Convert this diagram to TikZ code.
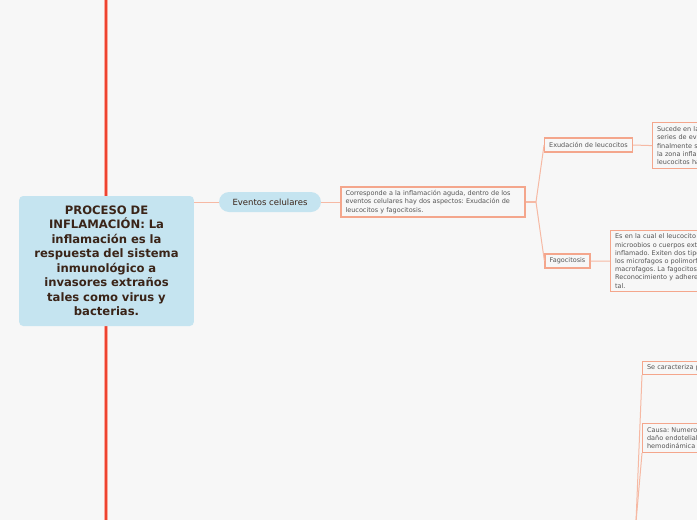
\documentclass[tikz,border=0pt]{standalone}
\usepackage{fontspec}
\setmainfont{DejaVu Sans}
\frenchspacing
\definecolor{bgcol}{HTML}{F7F7F7}
\definecolor{trunkred}{HTML}{EE4330}
\definecolor{trunkhalo}{HTML}{F9A99E}
\definecolor{topicblue}{HTML}{C5E4F0}
\definecolor{boxline}{HTML}{F4A68C}
\definecolor{linkline}{HTML}{F6B9A4}
\definecolor{maintext}{HTML}{3A2418}
\definecolor{smalltext}{HTML}{555555}
\tikzset{
  mainbox/.style={fill=topicblue, rounded corners=4pt, minimum width=173, minimum height=130,
    text width=168, align=center, text=maintext, font=\bfseries\fontsize{11.6}{14.5}\selectfont},
  pillbox/.style={fill=topicblue, rounded corners=10pt, minimum width=102, minimum height=20,
    text=maintext, font=\fontsize{8.5}{10}\selectfont},
  notebox/.style={draw=boxline, line width=1.2pt, fill=bgcol, align=left, text=smalltext,
    inner xsep=4.5pt, inner ysep=3pt, font=\fontsize{6.5}{8.2}\selectfont},
  link/.style={linkline, line width=1pt}
}
\begin{document}
\begin{tikzpicture}[x=1pt,y=-1pt]
        \useasboundingbox (0,0) rectangle (697,520);
        \fill[bgcol] (0,0) rectangle (697,520);
        \clip (0,0) rectangle (697,520);

        % trunk
        \coordinate (trunktop) at (106,0);
        \coordinate (trunkbot) at (106,520);
        \draw[trunkhalo, line width=4pt] (trunktop) -- (trunkbot);
        \draw[trunkred, line width=2pt] (trunktop) -- (trunkbot);

        % central topic
        \node[mainbox] (proceso) at (106.5,261) {PROCESO DE\\INFLAMACIÓN: La\\inflamación es la\\respuesta del sistema\\inmunológico a\\invasores extraños\\tales como virus y\\bacterias.};

        % eventos celulares
        \node[pillbox] (eventos) at (270,202) {Eventos celulares};
        \node[notebox, minimum width=184, minimum height=30, text width=175] (corresponde) at (433,202)
            {Corresponde a la inflamación aguda, dentro de los\\eventos celulares hay dos aspectos: Exudación de\\leucocitos y fagocitosis.};
        \coordinate (split) at (536,202);

        % 1. exudacion
        \node[notebox, minimum width=87, minimum height=14, inner ysep=1pt] (exudacion) at (588.5,145) {Exudación de leucocitos};
        \node[notebox, anchor=north west, minimum width=120, minimum height=46, text width=111] (sucede) at (652,122)
            {Sucede en la\\series de ev\\finalmente s\\la zona infla\\leucocitos ha};

        % 2. fagocitosis
        \node[notebox, minimum width=45, minimum height=14, inner ysep=1pt] (fagocitosis) at (567.5,261) {Fagocitosis};
        \node[notebox, anchor=north west, minimum width=140, minimum height=61, text width=131] (esenla) at (610,230)
            {Es en la cual el leucocito\\microobios o cuerpos ext\\inflamado. Exiten dos tipo\\los microfagos o polimorf\\macrofagos. La fagocitos\\Reconocimiento y adhere\\tal.};

        % lower branch
        \node[notebox, anchor=north west, minimum width=110, minimum height=13, inner ysep=1pt, text width=101] (secaracteriza) at (642,361) {Se caracteriza p};
        \node[notebox, anchor=north west, minimum width=110, minimum height=29, text width=101] (causa) at (642,423)
            {Causa: Numero\\daño endotelial\\hemodinámica};
        \coordinate (lowstem) at (636,522);

        % connectors
        \draw[link] (proceso.east |- eventos.west) -- (eventos.west);
        \draw[link] (eventos.east) -- (corresponde.west);
        \draw[link, line width=1.6pt] (corresponde.east) -- (split);
        \draw[link] (split) -- (exudacion.west);
        \draw[link] (split) -- (fagocitosis.west);
        \draw[link] (exudacion.east) -- (sucede.west);
        \draw[link] (fagocitosis.east) -- (esenla.west);
        \draw[link] (lowstem) -- (secaracteriza.south west);
        \draw[link] (lowstem) -- (causa.south west);
    \end{tikzpicture}
\end{document}
